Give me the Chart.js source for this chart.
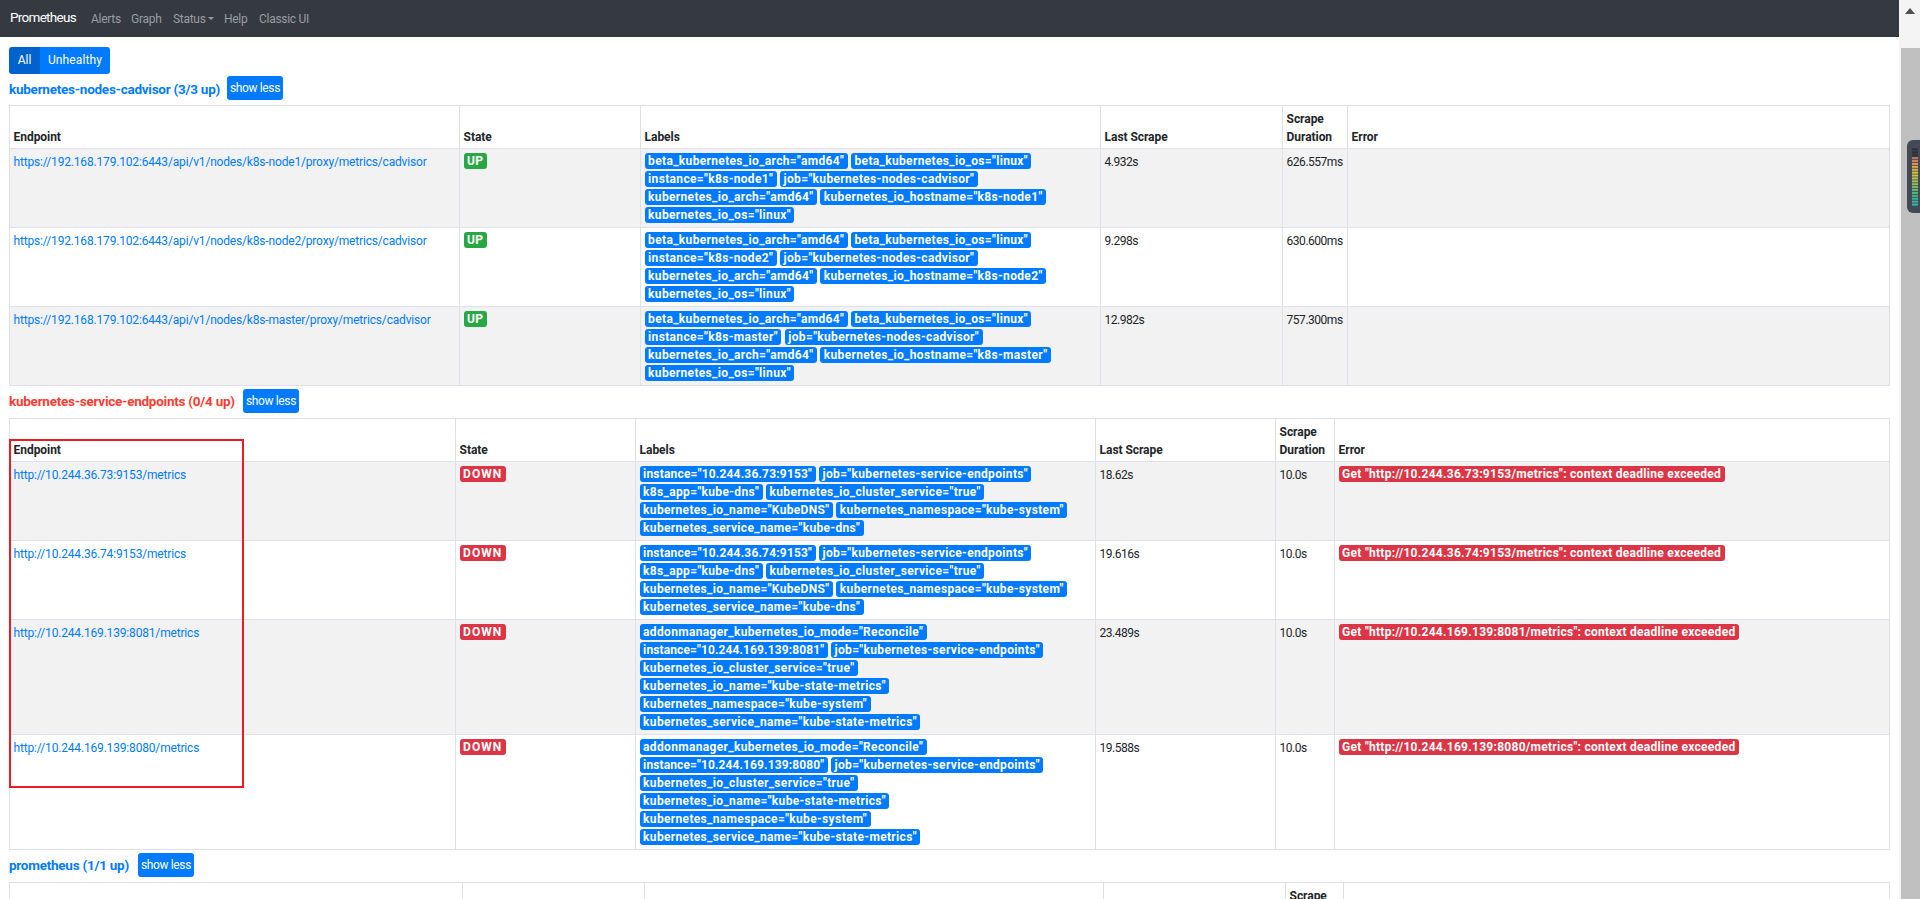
<!DOCTYPE html>
<html lang="en">
<head>
<meta charset="utf-8">
<title>Prometheus Time Series Collection and Processing Server</title>
<script src="https://cdn.jsdelivr.net/npm/chart.js@4"></script>
<style>
html,body{margin:0;padding:0;width:1920px;height:899px;overflow:hidden;background:#fff;font-family:Roboto,Arial,sans-serif;font-size:12px;color:#212529}
*{box-sizing:border-box}
#nav{position:absolute;left:0;top:0;width:1899px;height:37px;background:#343a40}
#nav span{position:absolute;top:10px;line-height:18px;color:#9a9da0;white-space:nowrap}
#nav .brand{left:10px;top:8px;color:#fff;font-size:13.5px}
.caret{position:absolute;left:208px;top:17px;width:0;height:0;border-left:3px solid transparent;border-right:3px solid transparent;border-top:3px solid #9a9da0}
.seg{position:absolute;top:47px;height:27px;line-height:27px;color:#fff;text-align:center}
#segAll{left:9px;width:31px;background:#0062cc;border-radius:3px 0 0 3px}
#segBad{left:40px;width:70px;background:#007bff;border-radius:0 3px 3px 0}
.job{position:absolute;left:9px;font-weight:700;font-size:13.5px;line-height:20px;white-space:nowrap;color:#007bff}
.job.bad{color:#ff3b30}
.less{position:absolute;width:56px;height:24px;line-height:24px;background:#007bff;color:#fff;text-align:center;border-radius:3px}
table{position:absolute;left:9px;width:1880px;table-layout:fixed;border-collapse:collapse}
th,td{border:1px solid #dee2e6;padding:4px 3.6px 2px;line-height:18px;vertical-align:top;text-align:left;overflow:visible;white-space:nowrap}
th{vertical-align:bottom;font-weight:700}
table.cut th{vertical-align:top;height:43px}
tbody tr:nth-child(odd) td{background:#f2f2f2}
a{color:#007bff;text-decoration:none}
.bdg{display:inline-block;height:16px;line-height:16px;padding:0 3.5px;margin-right:3.4px;margin-bottom:2px;border-radius:3px;color:#fff;font-weight:700;vertical-align:top;white-space:nowrap}
.blue{background:#007bff}.green{background:#28a745}.red{background:#dc3545}
.line{display:block;height:18px}
#mark{position:absolute;left:9px;top:439px;width:235px;height:349px;border:2px solid #ed1c24;pointer-events:none}
#sb{position:absolute;left:1899px;top:0;width:21px;height:899px;background:#f4f4f4}
#thumb{position:absolute;left:2px;top:48px;width:19px;height:851px;background:#c0c0c0}
#arrow{position:absolute;left:6px;top:8px;width:0;height:0;border-left:5px solid transparent;border-right:5px solid transparent;border-bottom:6px solid #505050}
#meterBody{position:absolute;left:1907px;top:140px;width:13px;height:73px;background:#434955;border-radius:6px 0 0 6px}
#meterWrap{position:absolute;left:1912px;top:148px;width:6px;height:58px}
</style>
</head>
<body>
<div id="nav"></div>
<div class="seg" id="segAll"></div><div class="seg" id="segBad"></div>
<div id="page"></div>
<div id="mark"></div>
<div id="sb"><div id="arrow"></div><div id="thumb"></div></div>
<div id="meterBody"></div>
<div id="meterWrap"><canvas id="meter" width="6" height="58"></canvas></div>
<script>
// ---------- page content ----------
const brand = "Prometheus";
const navItems = ["Alerts","Graph","Status","Help","Classic UI"];
const filterButtons = ["All","Unhealthy"];
const showLess = "show less";
const columns = ["Endpoint","State","Labels","Last Scrape","Scrape<br>Duration","Error"];
const columnsCut = ["","","","","Scrape",""];

const job1Title = "kubernetes-nodes-cadvisor (3/3 up)";
const job1Endpoints = [
 "https://192.168.179.102:6443/api/v1/nodes/k8s-node1/proxy/metrics/cadvisor",
 "https://192.168.179.102:6443/api/v1/nodes/k8s-node2/proxy/metrics/cadvisor",
 "https://192.168.179.102:6443/api/v1/nodes/k8s-master/proxy/metrics/cadvisor"];
const job1Scrape = ["4.932s","9.298s","12.982s"];
const job1Duration = ["626.557ms","630.600ms","757.300ms"];
const job1Nodes = ["k8s-node1","k8s-node2","k8s-master"];

const job2Title = "kubernetes-service-endpoints (0/4 up)";
const job2Endpoints = [
 "http://10.244.36.73:9153/metrics",
 "http://10.244.36.74:9153/metrics",
 "http://10.244.169.139:8081/metrics",
 "http://10.244.169.139:8080/metrics"];
const job2Instances = ["10.244.36.73:9153","10.244.36.74:9153","10.244.169.139:8081","10.244.169.139:8080"];
const job2Scrape = ["18.62s","19.616s","23.489s","19.588s"];
const job2Duration = ["10.0s","10.0s","10.0s","10.0s"];

const job3Title = "prometheus (1/1 up)";

// ---------- scrollbar level meter, the one plotted mark on the page ----------
const meterLevels = [1,1,1,1,1,1,1,1,1,1,1,1,1,1,1,1,1,1,1,1];
const meterColors = ["#2c3038","#2c3038","#2c3038","#c8755c","#d0805a","#d9974e","#dba548","#d9b541","#d6c23f","#cfc840",
                     "#bcc748","#a6c44f","#8fc05a","#78bb62","#62b76d","#4fb47a","#42b386","#3bb492","#35b69e","#33baa8"];

// ---------- builders ----------
const badge = (t,c)=>`<span class="bdg ${c}">${t.replace(/</g,"&lt;")}</span>`;
const lines = rows => rows.map(r=>`<span class="line">${r.map(t=>badge(t,"blue")).join("")}</span>`).join("");

function cadvisorLabels(node){
  return lines([
    ['beta_kubernetes_io_arch="amd64"','beta_kubernetes_io_os="linux"'],
    [`instance="${node}"`,'job="kubernetes-nodes-cadvisor"'],
    ['kubernetes_io_arch="amd64"',`kubernetes_io_hostname="${node}"`],
    ['kubernetes_io_os="linux"']]);
}
function serviceLabels(i){
  const inst = `instance="${job2Instances[i]}"`, job='job="kubernetes-service-endpoints"';
  if(i<2) return lines([[inst,job],
    ['k8s_app="kube-dns"','kubernetes_io_cluster_service="true"'],
    ['kubernetes_io_name="KubeDNS"','kubernetes_namespace="kube-system"'],
    ['kubernetes_service_name="kube-dns"']]);
  return lines([['addonmanager_kubernetes_io_mode="Reconcile"'],[inst,job],
    ['kubernetes_io_cluster_service="true"'],['kubernetes_io_name="kube-state-metrics"'],
    ['kubernetes_namespace="kube-system"'],['kubernetes_service_name="kube-state-metrics"']]);
}
function table(top,widths,rows,heads,cls){
  const cols = widths.map(w=>`<col style="width:${w}px">`).join("");
  const head = heads.map(c=>`<th>${c}</th>`).join("");
  const body = rows.map(r=>`<tr><td><a class="lnk" href="#">${r.ep}</a></td><td>${badge(r.up?"UP":"DOWN",(r.up?"green":"red")+" st"+(r.up?"U":"D"))}</td><td>${r.labels}</td><td>${r.last}</td><td>${r.dur}</td><td>${r.err?badge(r.err,"red errb"):""}</td></tr>`).join("");
  return `<table class="${cls||""}" style="top:${top}px"><colgroup>${cols}</colgroup><thead><tr>${head}</tr></thead><tbody>${body}</tbody></table>`;
}

// ---------- page assembly ----------
const navLeft = [91,131,173,224,259];
document.getElementById("nav").innerHTML =
  `<span class="brand">${brand}</span>` + navItems.map((t,i)=>`<span class="ni" style="left:${navLeft[i]}px">${t}</span>`).join("") + `<i class="caret"></i>`;
document.getElementById("segAll").textContent = filterButtons[0];
document.getElementById("segBad").textContent = filterButtons[1];

const rows1 = job1Endpoints.map((ep,i)=>({ep,up:true,labels:cadvisorLabels(job1Nodes[i]),last:job1Scrape[i],dur:job1Duration[i],err:""}));
const rows2 = job2Endpoints.map((ep,i)=>({ep,up:false,labels:serviceLabels(i),last:job2Scrape[i],dur:job2Duration[i],
  err:`Get "${ep}": context deadline exceeded`}));
document.getElementById("page").innerHTML =
  `<div class="job" style="top:79px">${job1Title}</div><div class="less" style="left:227px;top:76px">${showLess}</div>` +
  table(105,[450,181,460,182,65,542],rows1,columns) +
  `<div class="job bad" style="top:391px">${job2Title}</div><div class="less" style="left:243px;top:389px">${showLess}</div>` +
  table(418,[446,180,460,180,59,555],rows2,columns) +
  `<div class="job" style="top:855px">${job3Title}</div><div class="less" style="left:138px;top:853px">${showLess}</div>` +
  table(882,[453,182,459,182,58,546],[],columnsCut,"cut");

// ---------- match the measured text widths with a letter-spacing per text style ----------
const ctx = document.createElement("canvas").getContext("2d");
function fit(sel,font,sample,target){
  ctx.font = font+" Roboto";
  const ls = (target-ctx.measureText(sample).width)/sample.length;
  document.querySelectorAll(sel).forEach(e=>e.style.letterSpacing=ls.toFixed(3)+"px");
}
fit("td","400 12px","626.557ms",56);
fit(".lnk","400 12px",job1Endpoints[0],413);
fit(".bdg","700 12px",'beta_kubernetes_io_arch="amd64"',196);
fit(".errb","700 12px",`Get "${job2Endpoints[0]}": context deadline exceeded`,379);
fit(".stD","700 12px","DOWN",39);
fit(".stU","700 12px","UP",16);
fit("th","700 12px","Last Scrape",63);
fit(".job","700 13.5px",job1Title,211);
fit(".less","400 12px",showLess,50);
fit(".ni","400 12px","Classic UI",50);
fit(".brand","400 13.5px",brand,66);
fit("#segBad","400 12px","Unhealthy",54);
// instance badges holding an address run narrower in the reference
document.querySelectorAll(".blue").forEach(e=>{
  if(e.textContent.startsWith('instance="10.')){
    ctx.font="700 12px Roboto";
    e.style.letterSpacing=((e.textContent.includes("169")?181:169)-ctx.measureText(e.textContent).width)/e.textContent.length+"px";
  }
});

// ---------- Chart.js draws the scrollbar level meter ----------
new Chart(document.getElementById("meter"),{
  type:"bar",
  data:{labels:meterLevels.map((_,i)=>i),datasets:[{data:meterLevels,backgroundColor:meterColors,borderWidth:0,categoryPercentage:1,barPercentage:0.72}]},
  options:{indexAxis:"y",responsive:false,animation:false,layout:{padding:0},
    plugins:{legend:{display:false},tooltip:{enabled:false}},
    scales:{x:{display:false,min:0,max:1},y:{display:false}}}
});
</script>
</body>
</html>
